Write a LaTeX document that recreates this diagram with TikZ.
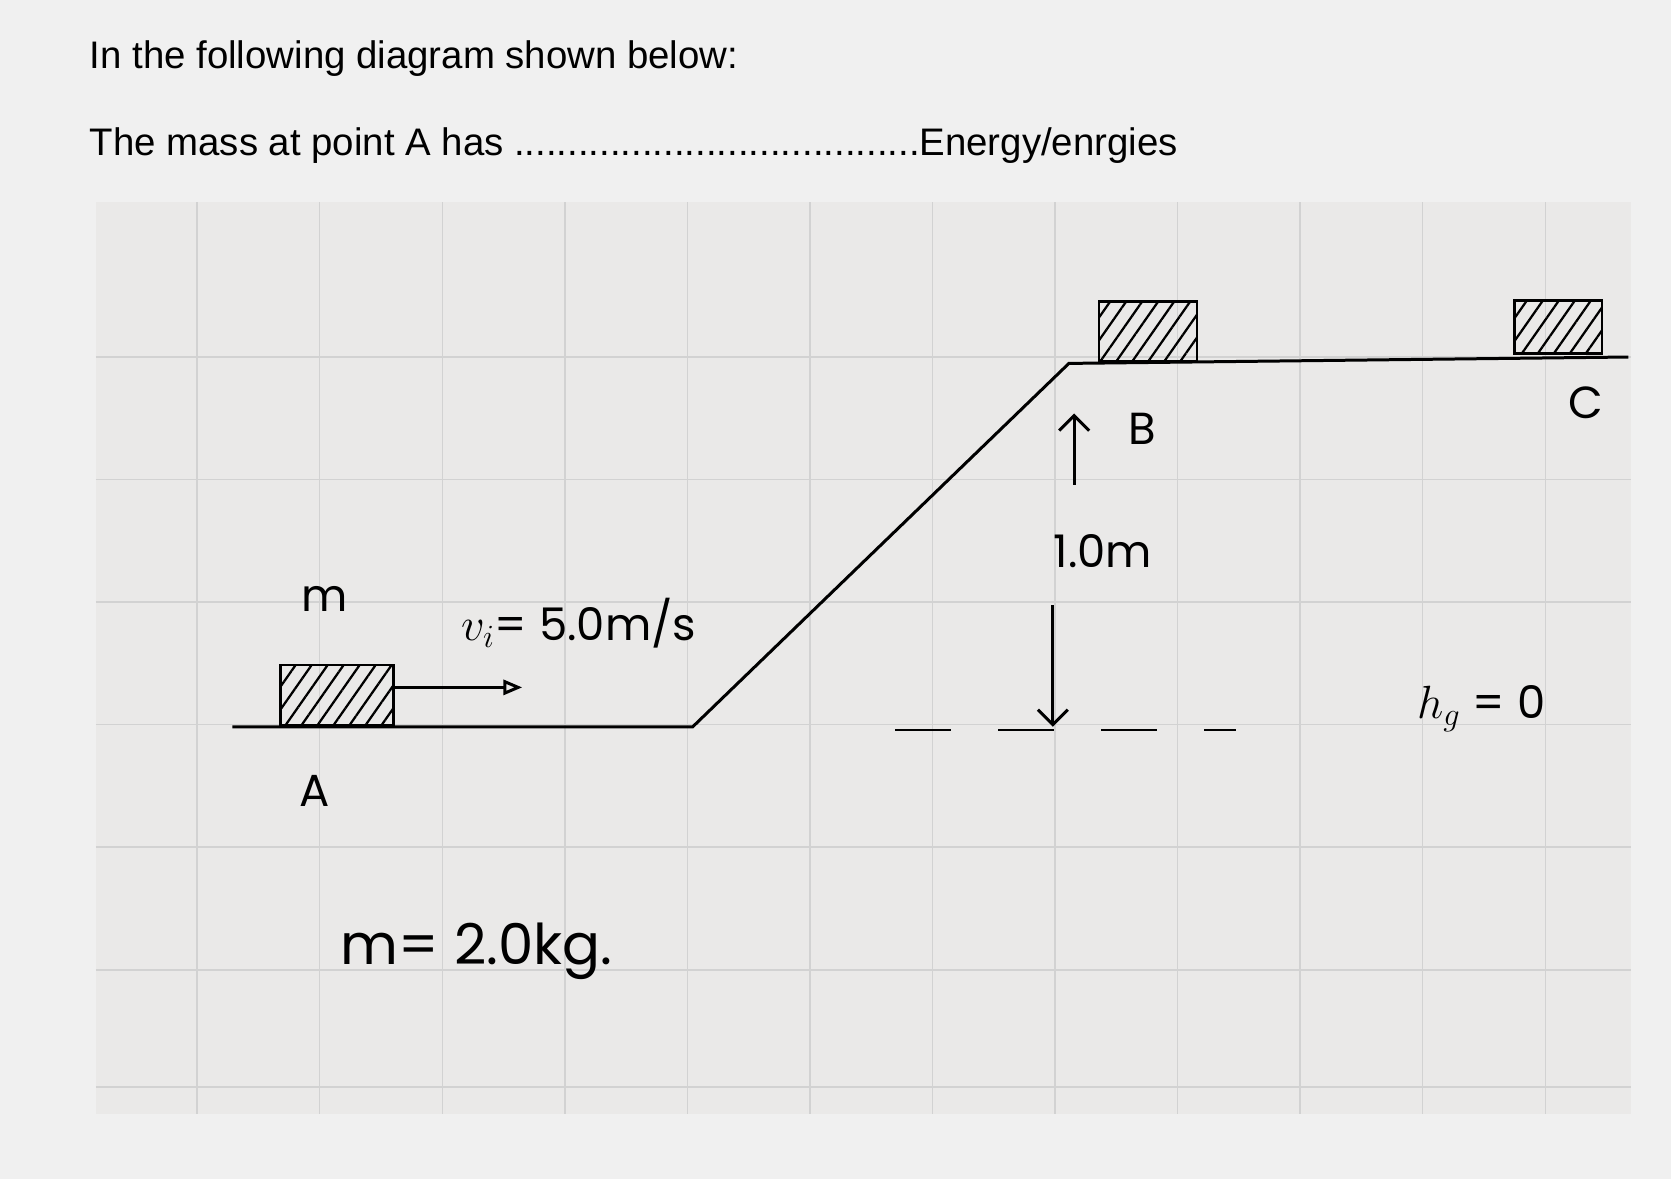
\documentclass[tikz,border=0pt]{standalone}
\usepackage{fontspec}
\setmainfont{Liberation Sans}
\newfontfamily\hand{Poppins}
\usetikzlibrary{patterns.meta,arrows.meta}
\tikzset{blk/.style={draw,line width=1.4pt,pattern={Lines[angle=55,distance=7pt,line width=1.2pt]}},
 ln/.style={line width=1.6pt},
 hw/.style={font=\hand\fontsize{24}{28}\selectfont},
 ttl/.style={font=\fontsize{20.5}{24}\selectfont,anchor=west}}
\begin{document}
\begin{tikzpicture}[x=0.02cm,y=-0.02cm]
\useasboundingbox (0,0) rectangle (1568,1106);
\fill[gray!12] (0,0) rectangle (1568,1106);
\fill[yellow!4!gray!20] (90,190) rectangle (1530,1045);
\foreach \x in {185,300,415,530,645,760,875,990,1105,1220,1335,1450}
  \draw[gray!35,line width=0.8pt] (\x,190) -- (\x,1045);
\foreach \y in {335,450,565,680,795,910,1020}
  \draw[gray!35,line width=0.8pt] (90,\y) -- (1530,\y);
\node[ttl] (t1) at (78,55) {In the following diagram shown below:};
\node[ttl] (t2) at (78,137) {The mass at point A has ......................................Energy/enrgies};
\coordinate (g0) at (218,682); \coordinate (g1) at (650,682);
\coordinate (g2) at (1003,341); \coordinate (g3) at (1528,335);
\draw[ln] (g0) -- (g1) -- (g2) -- (g3);
\node[blk,minimum width=106*0.02cm,minimum height=57*0.02cm,inner sep=0,anchor=south west] (ba) at (262,682) {};
\node[blk,minimum width=92*0.02cm,minimum height=56*0.02cm,inner sep=0,anchor=south west] (bb) at (1030,340) {};
\node[blk,minimum width=82*0.02cm,minimum height=50*0.02cm,inner sep=0,anchor=south west] (bc) at (1420,333) {};
\coordinate (v0) at (368,645); \coordinate (v1) at (490,645);
\draw[ln,-{Triangle[open,length=10pt,width=8pt]}] (v0) -- (v1);
\node[hw] (m) at (305,562) {m};
\node[hw] (v) at (543,585) {$v_i$= 5.0m/s};
\node[hw] (A) at (295,742) {A};
\node[hw,font=\hand\fontsize{30}{34}\selectfont] (mm) at (447,893) {m= 2.0kg.};
\node[hw] (B) at (1072,402) {B};
\coordinate (u0) at (1008,455); \coordinate (u1) at (1008,388);
\draw[ln,-{Straight Barb[length=8pt]}] (u0) -- (u1);
\node[hw] (h) at (1035,517) {1.0m};
\coordinate (d0) at (988,568); \coordinate (d1) at (988,682);
\draw[ln,-{Straight Barb[length=8pt]}] (d0) -- (d1);
\coordinate (e0) at (840,685); \coordinate (e1) at (1160,685);
\draw[line width=1.2pt,dash pattern=on 30pt off 25pt] (e0) -- (e1);
\node[hw] (C) at (1488,378) {C};
\node[hw] (hg) at (1390,665) {$h_g$ = 0};
\end{tikzpicture}
\end{document}
